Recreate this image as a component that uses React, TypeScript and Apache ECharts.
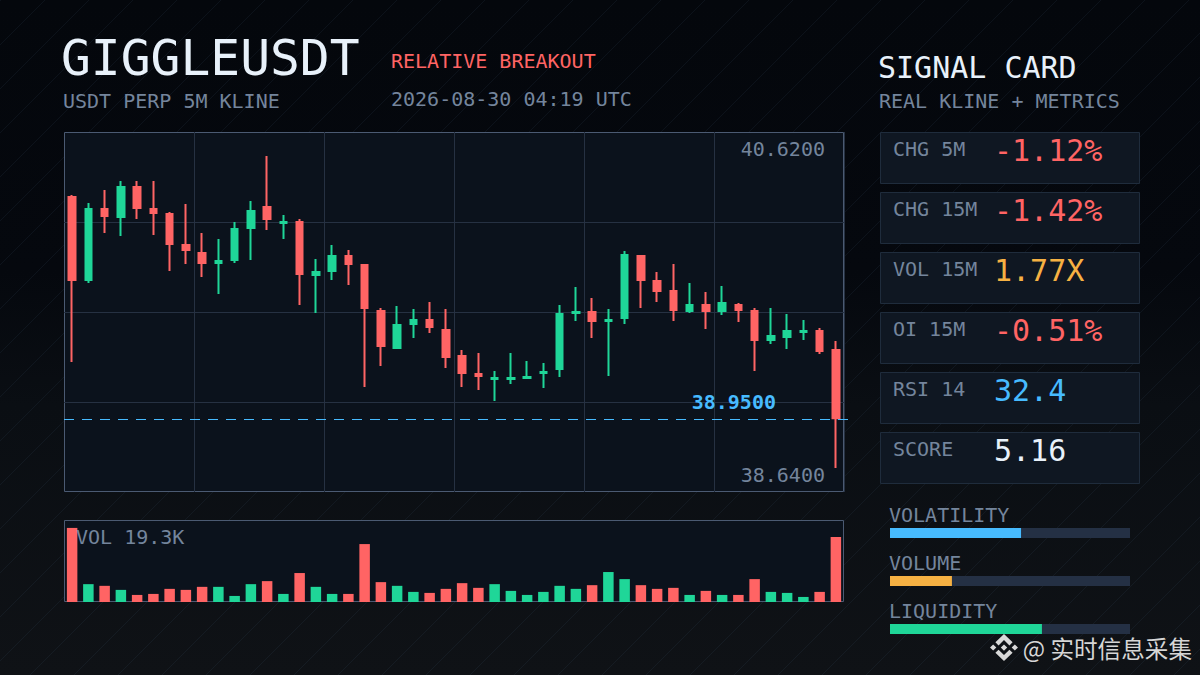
import React, { useEffect, useRef } from "react";
import * as echarts from "echarts";

const opens = [40.366,39.826,40.290,40.226,40.429,40.290,40.258,40.061,40.011,39.934,39.953,40.156,40.302,40.188,40.207,39.858,39.884,39.992,39.934,39.643,39.395,39.547,39.585,39.522,39.357,39.243,39.198,39.198,39.205,39.236,39.262,39.617,39.636,39.566,39.585,39.992,39.833,39.769,39.630,39.681,39.630,39.681,39.643,39.446,39.465,39.497,39.516,39.395];
const closes = [39.826,40.290,40.233,40.429,40.283,40.252,40.055,40.017,39.934,39.960,40.163,40.277,40.214,40.207,39.865,39.890,39.992,39.928,39.649,39.408,39.554,39.585,39.528,39.338,39.236,39.217,39.217,39.217,39.224,39.255,39.623,39.636,39.566,39.585,39.998,39.826,39.757,39.636,39.681,39.630,39.693,39.636,39.446,39.484,39.516,39.516,39.376,38.950];
const lows = [39.313,39.814,40.131,40.112,40.220,40.118,39.890,39.934,39.852,39.744,39.941,39.960,40.150,40.093,39.674,39.623,39.833,39.801,39.154,39.287,39.395,39.465,39.497,39.275,39.154,39.135,39.065,39.173,39.205,39.148,39.217,39.573,39.465,39.224,39.554,39.655,39.693,39.573,39.623,39.522,39.611,39.566,39.255,39.427,39.395,39.452,39.363,38.640];
const highs = [40.372,40.321,40.404,40.461,40.461,40.461,40.264,40.315,40.131,40.093,40.201,40.334,40.620,40.245,40.220,39.966,40.055,40.023,39.934,39.655,39.668,39.649,39.693,39.649,39.389,39.370,39.255,39.370,39.319,39.306,39.674,39.788,39.719,39.649,40.017,39.992,39.884,39.934,39.814,39.757,39.795,39.687,39.655,39.655,39.617,39.579,39.528,39.446];
const volumesK = [22.0,5.3,4.8,3.6,2.1,2.4,3.9,3.6,4.5,4.5,1.8,5.3,6.2,2.4,8.6,4.5,2.4,2.4,17.2,5.9,4.8,3.0,2.7,3.9,5.6,4.2,5.3,3.3,2.1,3.0,4.8,3.9,5.0,8.9,6.8,5.0,3.9,4.2,2.1,3.3,2.1,2.1,6.8,3.0,2.7,1.5,3.0,19.3];

const lastPrice = 38.95;
const priceMin = 38.488;
const priceMax = 40.772;

const tileLabels = ["CHG 5M", "CHG 15M", "VOL 15M", "OI 15M", "RSI 14", "SCORE"];
const tileValues = ["-1.12%", "-1.42%", "1.77X", "-0.51%", "32.4", "5.16"];

const gaugeLabels = ["VOLATILITY", "VOLUME", "LIQUIDITY"];
const gaugeValues = [54.6, 25.8, 63.3];

const RED = "#ff6464";
const GREEN = "#1fd698";
const BLUE = "#47bbff";
const AMBER = "#f6b143";
const GRAY = "#74859c";
const WHITE = "#e8f1fa";
const GRID_LINE = "#263142";
const tileColors = [RED, RED, AMBER, RED, BLUE, WHITE];
const gaugeColors = [BLUE, AMBER, GREEN];

const MONO = '"DejaVu Sans Mono", monospace';
const LOGO =
  "M38.73 53.2l24.59-24.58 24.6 24.6 14.3-14.31L63.32 0 24.43 38.9zM0 63.31l14.3-14.31 14.31 14.31-14.31 14.3zM38.73 73.41l24.59 24.59 24.6-24.6 14.31 14.29-38.9 38.91-38.91-38.88v-.03zM98.01 63.32l14.3-14.31 14.3 14.31-14.3 14.3zM77.83 63.3l-14.51-14.52-10.73 10.73-1.24 1.23-2.54 2.54 14.51 14.5 14.51-14.47z";

// Half of the candle's stroke, in price units: keeps the painted body on its open/close.
const strokeInset = 0.006345;

function txt(text: string, x: number, baseline: number, size: number, fill: string, align = "left", extra: any = {}) {
  return {
    type: "text",
    z: 100,
    silent: true,
    style: {
      text,
      x,
      y: baseline - size * 0.365,
      fill,
      font: `${size}px ${MONO}`,
      align,
      verticalAlign: "middle",
      ...extra,
    },
  };
}

function panel(x: number, y: number, w: number, h: number, fill: string, stroke: string) {
  return {
    type: "rect",
    z: -1,
    silent: true,
    shape: { x: x + 0.5, y: y + 0.5, width: w - 1, height: h - 1 },
    style: { fill, stroke, lineWidth: 1 },
  };
}

function buildOption() {
  const categories = opens.map((_, i) => String(i));
  const candles = opens.map((o, i) => {
    const c = closes[i];
    const up = c >= o;
    return [up ? o + strokeInset : o - strokeInset, up ? c - strokeInset : c + strokeInset, lows[i], highs[i]];
  });
  const volumeData = volumesK.map((v, i) => ({
    value: v,
    itemStyle: { color: closes[i] >= opens[i] ? GREEN : RED },
  }));

  const graphic: any[] = [
    panel(64, 132, 780, 360, "#0b121c", "#4b5a72"),
    panel(64, 520, 780, 82, "#0b121c", "#4b5a72"),
    txt("GIGGLEUSDT", 61, 76, 49.6, WHITE),
    txt("RELATIVE BREAKOUT", 391, 68, 20, RED),
    txt("USDT PERP 5M KLINE", 63, 108, 20, GRAY),
    txt("2026-08-30 04:19 UTC", 391, 106, 20, GRAY),
    txt("SIGNAL CARD", 878, 78, 30, WHITE),
    txt("REAL KLINE + METRICS", 879, 108, 20, GRAY),
    txt("40.6200", 825, 156, 20, GRAY, "right"),
    txt("38.6400", 825, 482, 20, GRAY, "right"),
    txt("38.9500", 776, 409, 20, BLUE, "right", { font: `bold 20px ${MONO}` }),
    txt("VOL 19.3K", 76, 544, 20, GRAY),
  ];
  tileLabels.forEach((label, i) => {
    const top = 132 + i * 60;
    graphic.push(panel(880, top, 260, 52, "#0f1722", "#1f2c3c"));
    graphic.push(txt(label, 893, top + 24, 20, GRAY));
    graphic.push(txt(tileValues[i], 994, top + 29, 30, tileColors[i]));
  });
  gaugeLabels.forEach((label, i) => {
    graphic.push(txt(label, 889, 522 + i * 48, 20, GRAY));
  });
  graphic.push({
    type: "wmLogo",
    z: 100,
    silent: true,
    x: 990,
    y: 634,
    scaleX: 0.2211,
    scaleY: 0.2135,
    style: { fill: "#d9d9d9" },
  });
  graphic.push({
    type: "text",
    z: 100,
    silent: true,
    style: {
      text: "@ 实时信息采集",
      x: 1192,
      y: 648,
      fill: "#d6d6d6",
      font: '23.6px "Noto Sans CJK SC", sans-serif',
      align: "right",
      verticalAlign: "middle",
    },
  });

  const hidden = { axisLine: { show: false }, axisTick: { show: false }, axisLabel: { show: false } };

  return {
    animation: false,
    backgroundColor: "transparent",
    grid: [
      { left: 64, top: 132, width: 780, height: 360 },
      { left: 64, top: 520, width: 780, height: 82 },
      { left: 890, top: 509, width: 240, height: 144 },
    ],
    xAxis: [
      {
        type: "category",
        gridIndex: 0,
        data: categories,
        boundaryGap: true,
        ...hidden,
        splitLine: {
          show: true,
          interval: (i: number) => i % 8 === 0 && i > 0,
          lineStyle: { color: GRID_LINE, width: 1 },
        },
      },
      { type: "category", gridIndex: 1, data: categories, ...hidden, splitLine: { show: false } },
      { type: "value", gridIndex: 2, min: 0, max: 100, ...hidden, splitLine: { show: false } },
    ],
    yAxis: [
      { type: "value", gridIndex: 0, min: priceMin, max: priceMax, scale: true, ...hidden, splitLine: { show: false } },
      {
        type: "value",
        gridIndex: 0,
        min: 0,
        max: 4,
        interval: 1,
        ...hidden,
        splitLine: { show: true, showMinLine: false, showMaxLine: false, lineStyle: { color: GRID_LINE, width: 1 } },
      },
      { type: "value", gridIndex: 1, min: 0, max: 24.35, ...hidden, splitLine: { show: false } },
      { type: "category", gridIndex: 2, data: gaugeLabels, inverse: true, ...hidden, splitLine: { show: false } },
    ],
    series: [
      {
        type: "candlestick",
        xAxisIndex: 0,
        yAxisIndex: 0,
        barWidth: 7,
        data: candles,
        itemStyle: { color: GREEN, color0: RED, borderColor: GREEN, borderColor0: RED, borderWidth: 2 },
        markLine: {
          silent: true,
          symbol: ["none", "none"],
          label: { show: false },
          lineStyle: { color: BLUE, width: 1, type: [10, 8] },
          data: [[{ x: 64, yAxis: lastPrice }, { x: 848, yAxis: lastPrice }]],
        },
      },
      {
        type: "bar",
        xAxisIndex: 1,
        yAxisIndex: 2,
        barWidth: 10.5,
        data: volumeData,
      },
      {
        type: "bar",
        xAxisIndex: 2,
        yAxisIndex: 3,
        barWidth: 10,
        showBackground: true,
        backgroundStyle: { color: "#243044" },
        data: gaugeValues.map((v, i) => ({ value: v, itemStyle: { color: gaugeColors[i] } })),
      },
    ],
    graphic: { elements: graphic },
  };
}

export default function App() {
  const ref = useRef<HTMLDivElement>(null);
  useEffect(() => {
    document.body.style.margin = "0";
    echarts.graphic.registerShape("wmLogo", echarts.graphic.extendPath(LOGO, {}) as any);
    const chart = echarts.init(ref.current as HTMLDivElement, undefined, { renderer: "svg", width: 1200, height: 675 });
    chart.setOption(buildOption() as any);
    return () => chart.dispose();
  }, []);
  return (
    <div
      style={{
        position: "absolute",
        left: 0,
        top: 0,
        width: 1200,
        height: 675,
        overflow: "hidden",
        background:
          "repeating-linear-gradient(135deg, rgba(0,0,0,0) 0, rgba(0,0,0,0) 0.3px, rgba(70,100,130,0.12) 0.3px, rgba(70,100,130,0.12) 1.1px, rgba(0,0,0,0) 1.1px, rgba(0,0,0,0) 31.113px), linear-gradient(180deg, #04070c 0%, #05080e 40%, #0a0e13 60%, #0f1216 100%)",
      }}
    >
      <div ref={ref} style={{ width: 1200, height: 675 }} />
    </div>
  );
}
